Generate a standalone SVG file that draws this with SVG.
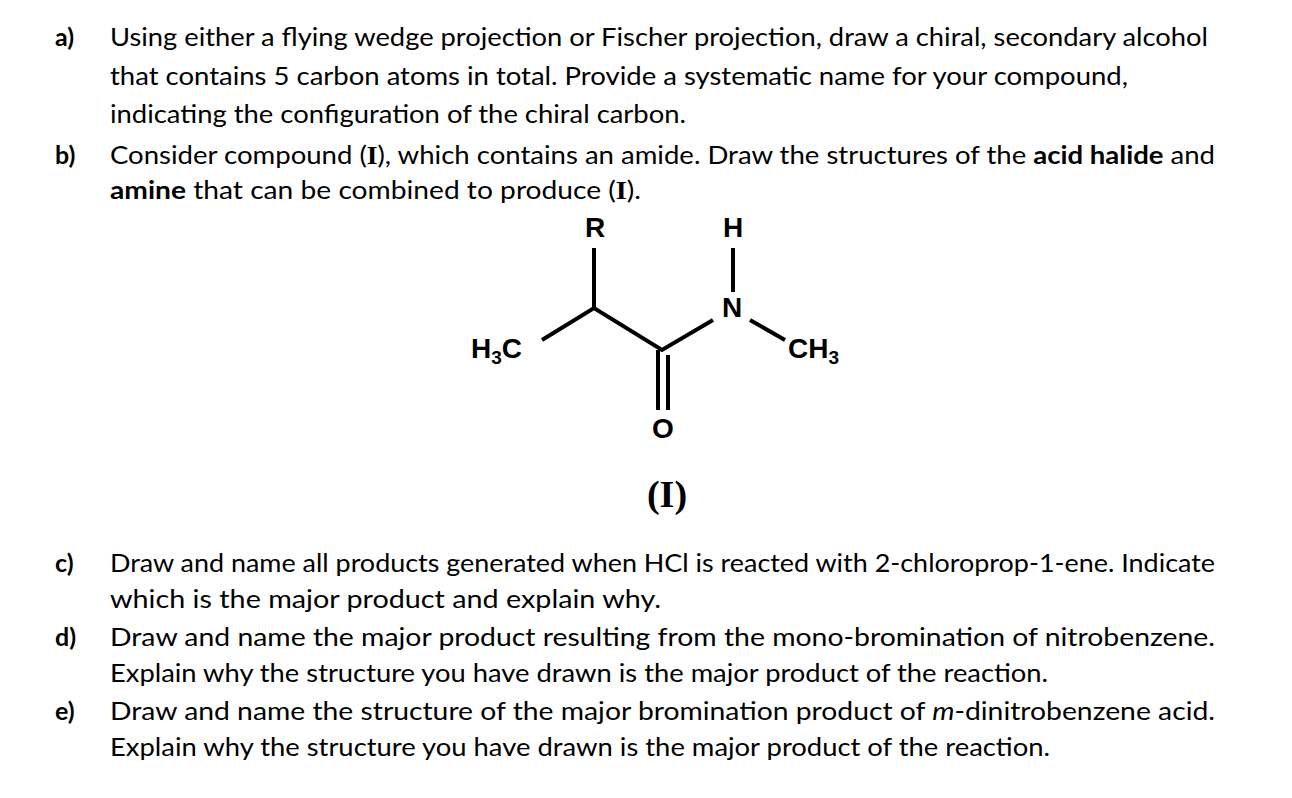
<svg xmlns="http://www.w3.org/2000/svg" width="1292" height="798" viewBox="0 0 1292 798">
<style>
.t{font-family:Lato,"Open Sans",sans-serif;font-size:25px;fill:#000}
.l{font-family:Lato,"Open Sans",sans-serif;font-size:25px;font-weight:bold;fill:#000}
.b{font-weight:bold}
.s{font-family:"Liberation Serif",serif;font-weight:bold}
.a{font-family:"Liberation Sans",Arial,sans-serif;font-size:28px;font-weight:bold;fill:#000}
.sub{font-size:19px}
.bd{stroke:#000;stroke-width:4;fill:none}
</style>
<rect width="1292" height="798" fill="#fff"/>
<g id="text">
<text class="l" x="55" y="46">a)</text>
<text class="t" x="110" y="46" textLength="1098" lengthAdjust="spacingAndGlyphs">Using either a flying wedge projection or Fischer projection, draw a chiral, secondary alcohol</text>
<text class="t" x="110" y="85" textLength="1018" lengthAdjust="spacingAndGlyphs">that contains 5 carbon atoms in total. Provide a systematic name for your compound,</text>
<text class="t" x="110" y="123" textLength="576" lengthAdjust="spacingAndGlyphs">indicating the configuration of the chiral carbon.</text>
<text class="l" x="55" y="164">b)</text>
<text class="t" x="110" y="164" textLength="1105" lengthAdjust="spacingAndGlyphs">Consider compound (<tspan class="s">I</tspan>), which contains an amide. Draw the structures of the <tspan class="b">acid halide</tspan> and</text>
<text class="t" x="110" y="199" textLength="531" lengthAdjust="spacingAndGlyphs"><tspan class="b">amine</tspan> that can be combined to produce (<tspan class="s">I</tspan>).</text>
<text class="l" x="55" y="572">c)</text>
<text class="t" x="110" y="572" textLength="1105" lengthAdjust="spacingAndGlyphs">Draw and name all products generated when HCl is reacted with 2-chloroprop-1-ene. Indicate</text>
<text class="t" x="110" y="608" textLength="551" lengthAdjust="spacingAndGlyphs">which is the major product and explain why.</text>
<text class="l" x="55" y="646">d)</text>
<text class="t" x="110" y="646" textLength="1105" lengthAdjust="spacingAndGlyphs">Draw and name the major product resulting from the mono-bromination of nitrobenzene.</text>
<text class="t" x="110" y="682" textLength="938" lengthAdjust="spacingAndGlyphs">Explain why the structure you have drawn is the major product of the reaction.</text>
<text class="l" x="55" y="720">e)</text>
<text class="t" x="110" y="720" textLength="1105" lengthAdjust="spacingAndGlyphs">Draw and name the structure of the major bromination product of <tspan font-style="italic">m</tspan>-dinitrobenzene acid.</text>
<text class="t" x="110" y="756" textLength="940" lengthAdjust="spacingAndGlyphs">Explain why the structure you have drawn is the major product of the reaction.</text>
</g>
<g id="molecule">
<text class="a" x="595" y="237" text-anchor="middle">R</text>
<text class="a" x="733" y="237" text-anchor="middle">H</text>
<text class="a" x="732" y="317" text-anchor="middle">N</text>
<text class="a" x="663" y="438" text-anchor="middle">O</text>
<text class="a" x="471" y="358">H<tspan class="sub" dy="6">3</tspan><tspan dy="-6">C</tspan></text>
<text class="a" x="788" y="358">CH<tspan class="sub" dy="6">3</tspan></text>
<text x="667" y="507" text-anchor="middle" font-family="Liberation Serif,serif" font-weight="bold" font-size="38">(I)</text>
</g>
<g id="connectors">
<path class="bd" d="M594 248V308M542 340L594 308L662 350L713 320M733 248V292M750 320L785 340M658 350V410M668 355V410"/>
</g>
</svg>
